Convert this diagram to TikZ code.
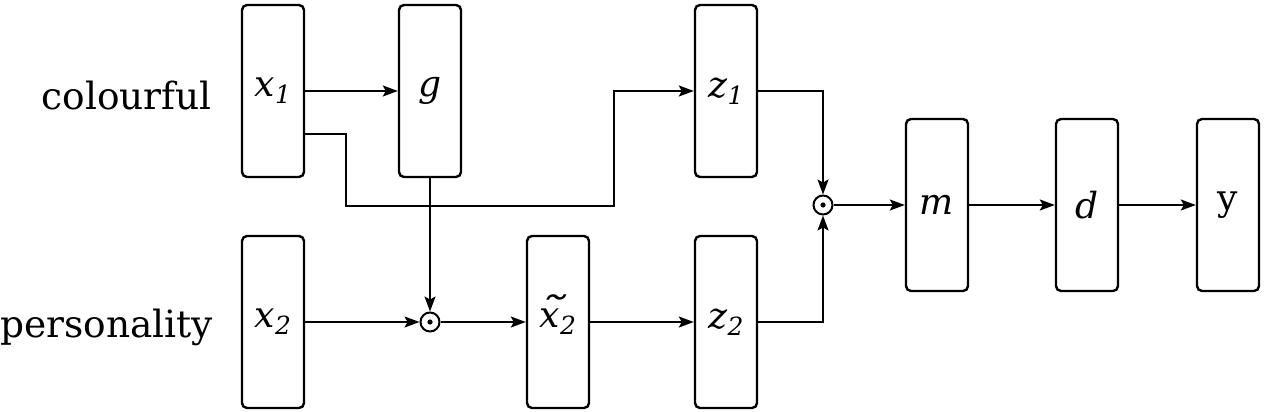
\documentclass[tikz,border=0pt]{standalone}
\usepackage{fontspec}
\usepackage{graphicx}
\setmainfont{DejaVu Serif}
\usetikzlibrary{arrows.meta}
\newcommand{\lowsub}[1]{\raisebox{-7pt}{\fontsize{25}{28}\selectfont #1}}
\newcommand{\widetil}[1]{\makebox[0pt][l]{\hspace{-3pt}\raisebox{2pt}[0pt][0pt]{\scalebox{1.6}[1.1]{\char"02DC}}}#1}

\begin{document}
\begin{tikzpicture}[x=1pt,y=-1pt,
    blk/.style={draw,line width=2.4pt,rounded corners=5pt,minimum width=62pt,minimum height=172pt,inner sep=0pt,font=\fontsize{36}{40}\selectfont\itshape},
    lbl/.style={font=\fontsize{37.5}{42}\selectfont,inner sep=0pt},
    prod/.style={draw,circle,line width=2pt,minimum size=19pt,inner sep=0pt},
    arr/.style={line width=2pt,-{Stealth[length=15pt,width=11pt,inset=3pt]}}]
       \useasboundingbox (0,0) rectangle (1266,412);
       \coordinate (b1) at (346,134);
       \coordinate (b2) at (614,206);
       \node[blk] (x1) at (273,91) {x\lowsub{1}};
       \node[blk] (g) at (430,91) {g};
       \node[blk] (z1) at (726,91) {z\lowsub{1}};
       \node[blk] (x2) at (273,322) {x\lowsub{2}};
       \node[blk] (xt) at (558,322) {\widetil{x}\lowsub{2}};
       \node[blk] (z2) at (726,322) {z\lowsub{2}};
       \node[blk] (m) at (937,205) {m};
       \node[blk] (d) at (1087,205) {d};
       \node[blk,font=\fontsize{36}{40}\selectfont] (y) at (1228,205) {y};
       \node[prod] (p1) at (430,322) {};
       \node[prod] (p2) at (823,205) {};
       \fill (p1) circle (2.6pt);
       \fill (p2) circle (2.6pt);
       \node[lbl,anchor=base east] (colour) at (212,110) {colourful};
       \node[lbl,anchor=base east] (person) at (213,337) {personality};
       \draw[arr] (x1) -- (g);
       \draw[arr] (x1.east |- b1) -| (b1 |- b2) -- (b2) |- (z1.west);
       \draw[arr] (g) -- (p1);
       \draw[arr] (x2) -- (p1);
       \draw[arr] (p1) -- (xt);
       \draw[arr] (xt) -- (z2);
       \draw[arr] (z1.east) -| (p2.north);
       \draw[arr] (z2.east) -| (p2.south);
       \draw[arr] (p2) -- (m);
       \draw[arr] (m) -- (d);
       \draw[arr] (d) -- (y);
     \end{tikzpicture}
\end{document}
